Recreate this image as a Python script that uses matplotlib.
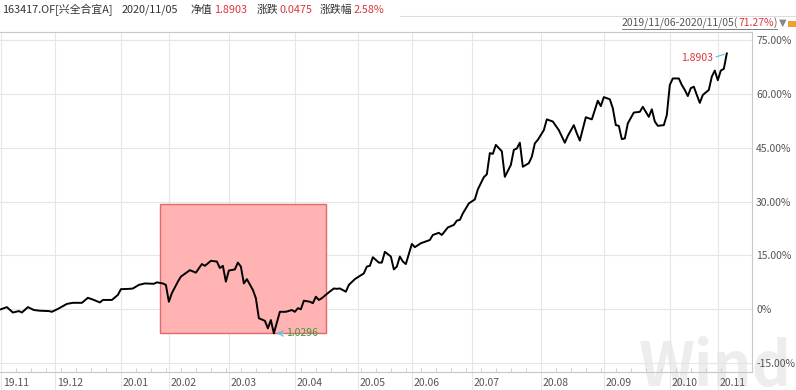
import matplotlib
matplotlib.use("Agg")
import matplotlib.pyplot as plt
import matplotlib.transforms as mtransforms
from matplotlib.patches import Rectangle

plt.rcParams['font.family'] = ['Noto Sans CJK SC', 'DejaVu Sans']

# trading-day index (0 = 2019/11/06) and cumulative return in %
days = [0, 2, 4, 6, 7, 9, 11, 13, 16, 17, 19, 22, 24, 27, 29, 31, 33, 34, 37, 39,
        40, 43, 44, 46, 48, 51, 52, 54, 55, 56, 57, 59, 60, 63, 65, 67, 68, 70, 72, 73,
        74, 75, 76, 78, 79, 80, 81, 82, 84, 85, 86, 88, 89, 90, 91, 93, 95, 97, 98, 99,
        100, 101, 103, 104, 105, 106, 107, 109, 111, 112, 113, 115, 116, 118, 121, 122, 123, 124, 126, 127,
        128, 130, 131, 132, 133, 134, 135, 137, 138, 140, 143, 144, 146, 147, 149, 151, 152, 153, 154, 156,
        158, 159, 161, 162, 163, 164, 165, 167, 168, 170, 171, 172, 173, 174, 176, 177, 178, 179, 181, 182,
        184, 186, 188, 189, 191, 192, 193, 195, 197, 199, 200, 201, 203, 204, 205, 206, 207, 208, 209, 211,
        213, 214, 216, 217, 218, 219, 221, 222, 223, 224, 226, 227, 228, 229, 230, 231, 232, 233, 234, 236,
        237, 238, 239, 240, 241, 242]
returns = [0.0, 0.6, -0.9, -0.5, -0.9, 0.6, -0.2, -0.4, -0.5, -0.7, 0.1, 1.5, 1.8, 1.8, 3.2, 2.6, 1.9, 2.6, 2.6, 4.0,
           5.6, 5.7, 5.8, 6.8, 7.2, 7.1, 7.5, 7.2, 6.8, 2.1, 4.5, 7.7, 9.1, 10.9, 10.2, 12.6, 12.1, 13.5, 13.3, 11.5,
           12.1, 7.7, 10.8, 11.1, 13.0, 11.9, 7.2, 8.4, 5.4, 3.1, -2.5, -3.2, -5.3, -3.0, -6.71, -0.7, -0.7, -0.2, -0.7, 0.3,
           0.0, 2.4, 2.1, 1.7, 3.5, 2.6, 3.1, 4.5, 5.8, 5.7, 5.8, 4.9, 6.8, 8.4, 10.0, 11.9, 12.1, 14.5, 13.0, 13.0,
           16.0, 14.7, 11.1, 11.9, 14.7, 13.3, 12.6, 18.2, 17.3, 18.4, 19.3, 20.7, 21.3, 20.7, 22.8, 23.5, 24.7, 24.9, 26.7, 29.5,
           30.6, 33.4, 36.8, 37.6, 43.5, 43.3, 45.8, 44.0, 36.9, 40.2, 44.4, 44.8, 46.4, 39.7, 40.7, 42.5, 46.2, 47.2, 49.9, 52.9,
           52.3, 49.9, 46.4, 48.3, 51.3, 49.0, 47.0, 53.5, 52.9, 58.1, 56.6, 59.1, 58.5, 56.0, 51.3, 51.1, 47.4, 47.6, 51.8, 54.8,
           55.0, 56.4, 53.6, 55.7, 52.3, 51.1, 51.3, 54.1, 62.5, 64.3, 64.3, 62.5, 61.1, 59.4, 61.6, 62.0, 59.7, 57.5, 59.7, 61.1,
           64.8, 66.5, 63.8, 66.5, 66.97, 71.27]

month_starts = [0, 18, 40, 56, 76, 98, 119, 137, 157, 180, 201, 223, 239]
month_labels = ['19.11', '19.12', '20.01', '20.02', '20.03', '20.04', '20.05',
                '20.06', '20.07', '20.08', '20.09', '20.10', '20.11']
y_ticks = [-15, 0, 15, 30, 45, 60, 75]
y_labels = ['-15.00%', '0%', '15.00%', '30.00%', '45.00%', '60.00%', '75.00%']

# highlighted interval (drawdown box)
box_start, box_end = 53.1, 108.3
box_low, box_high = -6.6, 29.3
min_day, min_ret, min_nav = 91, -6.71, '1.0296'
last_nav = '1.8903'

W, H = 796, 390
fig = plt.figure(figsize=(W / 100, H / 100), dpi=100)
ax = fig.add_axes([0, (H - 372) / H, 752 / W, 340 / H])
ax.patch.set_alpha(0)

ax.plot(days, returns, color='black', lw=1.4, zorder=3)
ax.add_patch(Rectangle((box_start, box_low), box_end - box_start, box_high - box_low,
                       facecolor='#ffb3b3', edgecolor='#e06a6a', lw=1, zorder=2))

ax.set_xlim(-0.3, 250.4)
ax.set_ylim(-17.47, 77.24)

ax.yaxis.tick_right()
ax.set_yticks(y_ticks)
ax.set_yticklabels(y_labels)
ax.set_xticks(month_starts)
ax.set_xticklabels(month_labels, ha='left')
ax.set_xticks(range(0, 243, 5), minor=True)
ax.tick_params(axis='y', length=0, pad=3, labelsize=7.5, labelcolor='#555555')
ax.tick_params(axis='x', which='major', length=0, pad=4, labelsize=7.5, labelcolor='#555555')
ax.tick_params(axis='x', which='minor', length=3, direction='in', color='#c8c8c8')
offset = mtransforms.ScaledTranslation(2 / 100, 0, fig.dpi_scale_trans)
for lab in ax.get_xticklabels():
    lab.set_transform(lab.get_transform() + offset)

ax.grid(True, color='#e6e6e6', lw=0.8, zorder=0)
ax.set_axisbelow(True)
for m in month_starts:
    ax.axvline(m, ymin=-18 / 340, ymax=0, color='#e6e6e6', lw=0.8, clip_on=False)
ax.spines['left'].set_visible(False)
for s in ['top', 'right', 'bottom']:
    ax.spines[s].set_color('#c8c8c8')
    ax.spines[s].set_linewidth(0.8)

# value labels
ax.annotate('', xy=(min_day, min_ret), xytext=(min_day + 4, min_ret),
            arrowprops=dict(arrowstyle='->', color='#5bc0de', lw=0.8))
ax.text(min_day + 4, min_ret, min_nav, color='#3c9a3c', fontsize=7.5, va='center', ha='left')
ax.annotate('', xy=(days[-1], returns[-1]), xytext=(days[-1] - 4.5, returns[-1] - 1.2),
            arrowprops=dict(arrowstyle='-', color='#5bc0de', lw=0.8))
ax.text(days[-1] - 4.5, returns[-1] - 1.2, last_nav, color='#d9363e', fontsize=7.5,
        va='center', ha='right')

# watermark, behind the (transparent) axes
fig.text(715 / W, 1 - 368 / H, 'Wind', fontsize=44, fontweight='bold', color='#ededed',
         ha='center', va='center', zorder=-1)


def px(x, y):
    return x / W, 1 - y / H


# header
hdr = [(2, '163417.OF[兴全合宜A]', '#333333'), (122, '2020/11/05', '#333333'),
       (190, '净值', '#333333'), (214, '1.8903', '#d9363e'),
       (257, '涨跌', '#333333'), (280, '0.0475', '#d9363e'),
       (320, '涨跌幅', '#333333'), (354, '2.58%', '#d9363e')]
for x, s, c in hdr:
    fig.text(*px(x, 10), s, fontsize=7.8, color=c, va='center', ha='left')

fig.add_artist(plt.Line2D([400 / W, 1], [1 - 16 / H] * 2, color='#dddddd', lw=0.8))

t1 = fig.text(*px(622, 23), '2019/11/06-2020/11/05(', fontsize=7.5, color='#555555',
              va='center', ha='left')
fig.canvas.draw()
bb = t1.get_window_extent()
t2 = fig.text(bb.x1 / W, 1 - 23 / H, '71.27%', fontsize=7.5, color='#d9363e', va='center', ha='left')
fig.canvas.draw()
bb2 = t2.get_window_extent()
t3 = fig.text(bb2.x1 / W, 1 - 23 / H, ')', fontsize=7.5, color='#555555', va='center', ha='left')
fig.canvas.draw()
bb3 = t3.get_window_extent()
fig.add_artist(plt.Line2D([bb.x0 / W, bb3.x1 / W], [(H - 28.5) / H] * 2, color='#666666', lw=0.6))
fig.text(bb3.x1 / W + 0.002, 1 - 23 / H, '▼', fontsize=7, color='#888888', va='center', ha='left',
         family='DejaVu Sans')
fig.add_artist(Rectangle((788 / W, 1 - 27 / H), 8 / W, 6 / H, transform=fig.transFigure,
                         facecolor='#f0a030', edgecolor='none'))

fig.savefig('out.png', dpi=100)
